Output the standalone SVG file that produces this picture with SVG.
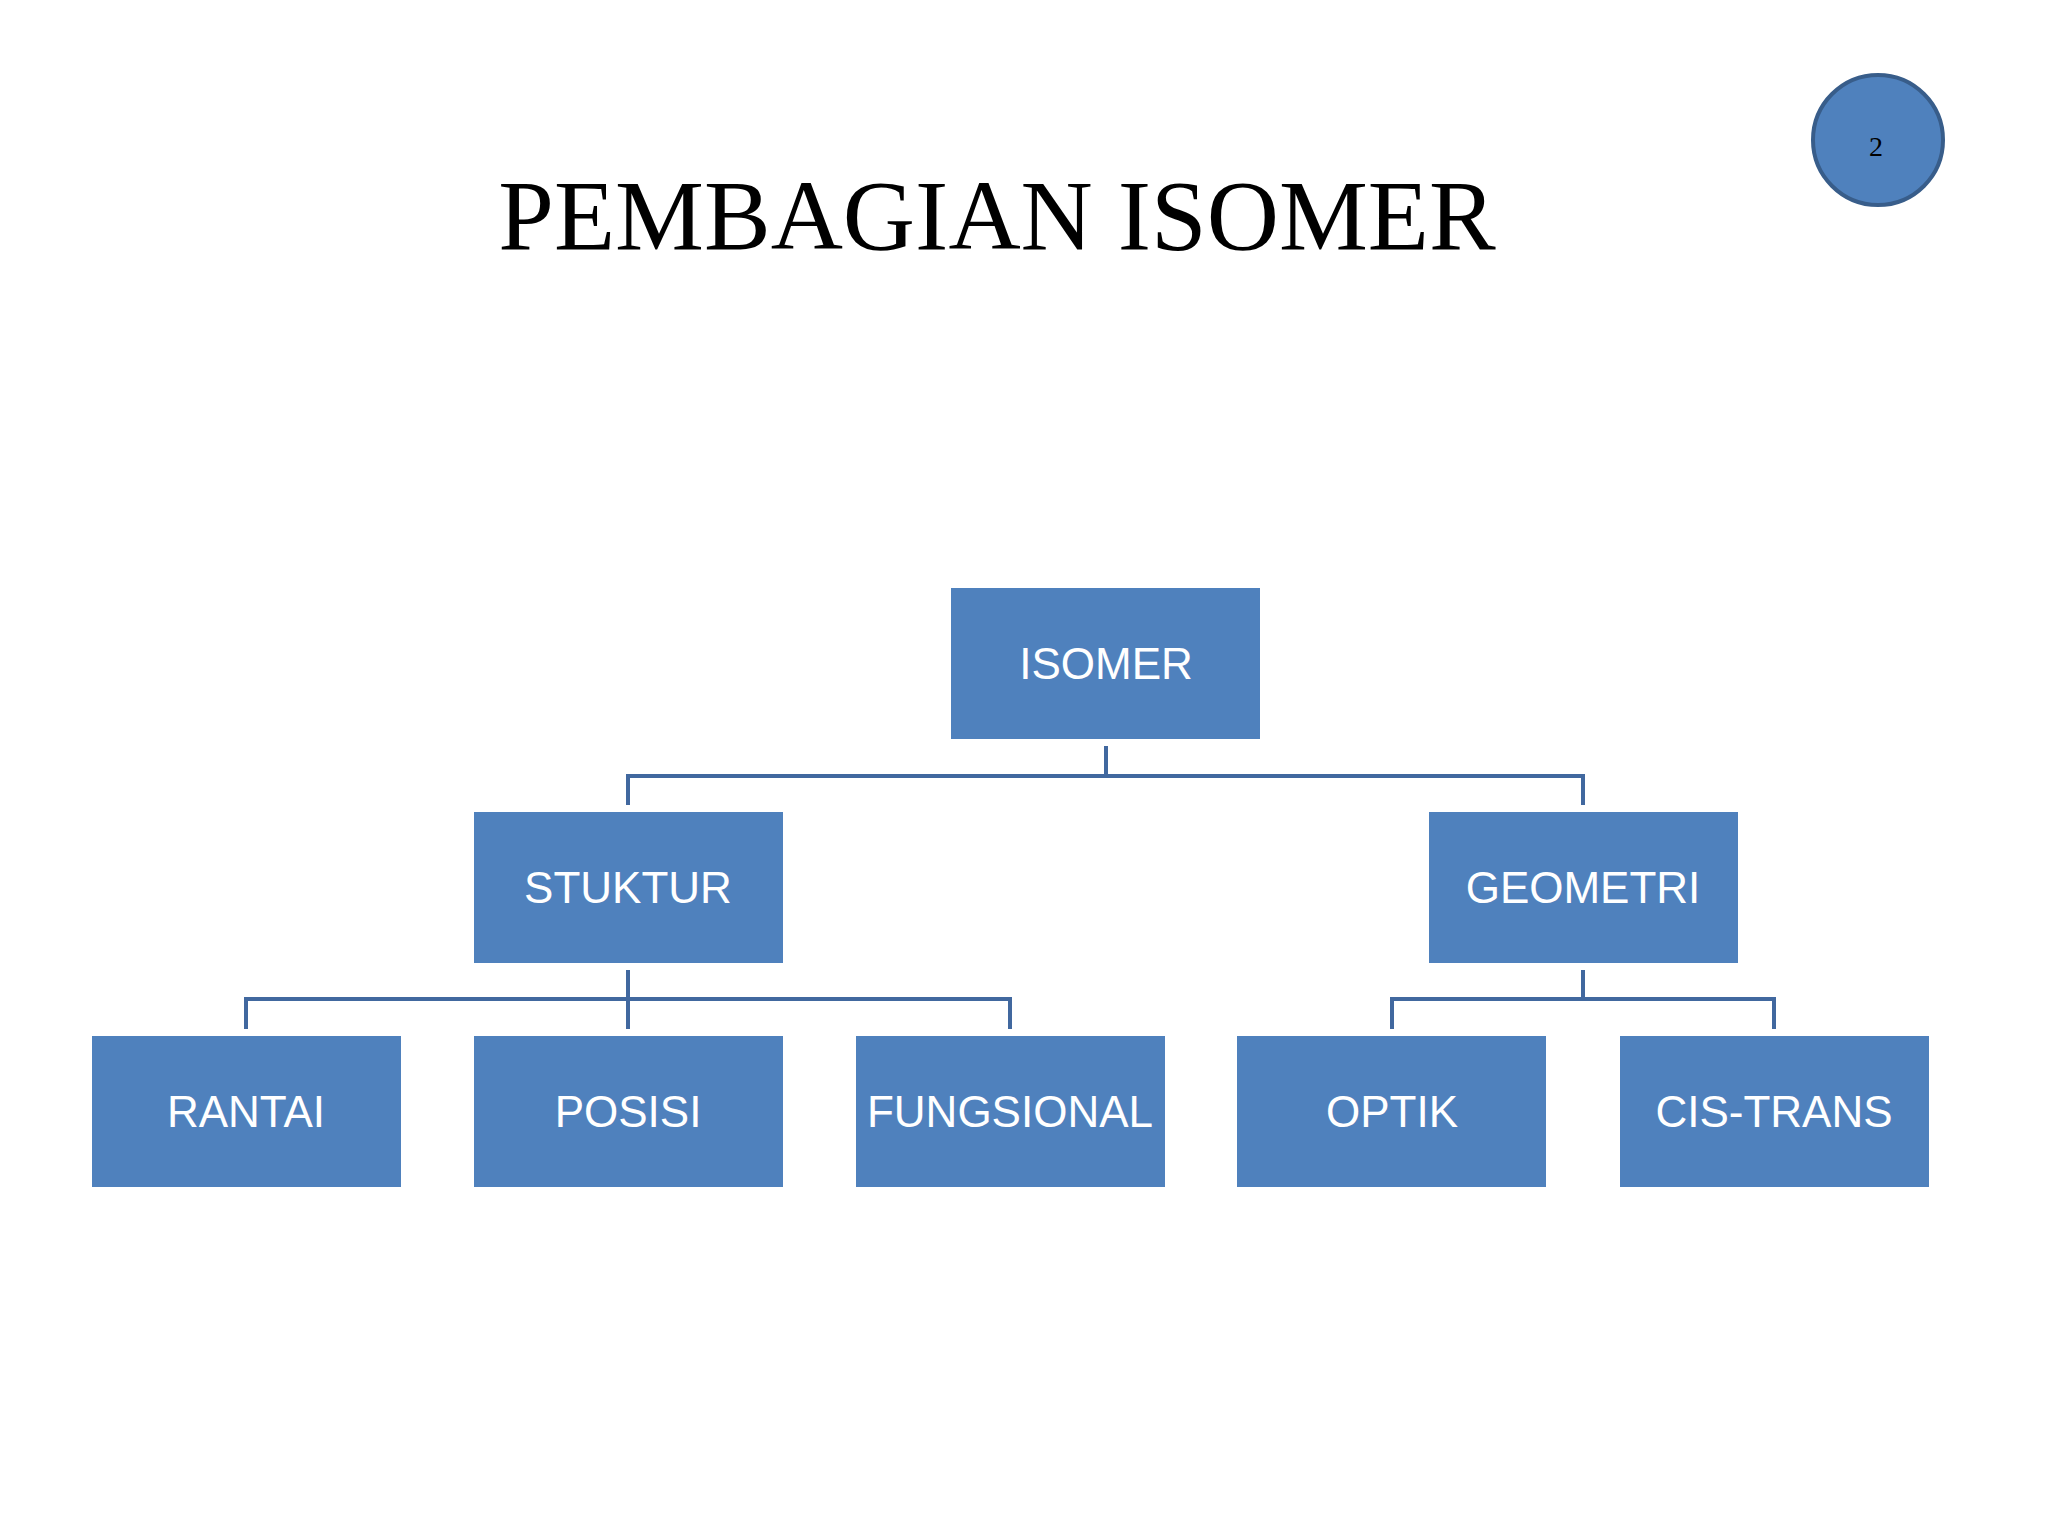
<svg xmlns="http://www.w3.org/2000/svg" width="2048" height="1536" viewBox="0 0 2048 1536">
<style>
.box{fill:#4f81bd}
.lbl{fill:#fff;font-family:"Liberation Sans",Arial,sans-serif;font-size:44px;text-anchor:middle;dominant-baseline:central}
.con{fill:none;stroke:#41689f;stroke-width:4}
</style>
<rect width="2048" height="1536" fill="#fff"/>
<text x="997" y="215" font-family="Liberation Serif,serif" font-size="100" text-anchor="middle" dominant-baseline="central" fill="#000">PEMBAGIAN ISOMER</text>
<g id="pagenum">
<circle cx="1878" cy="140" r="65" fill="#4f81bd" stroke="#385d8a" stroke-width="4"/>
<text x="1876" y="146" font-family="Liberation Serif,serif" font-size="28" text-anchor="middle" dominant-baseline="central" fill="#000">2</text>
</g>
<g id="connectors">
<path class="con" d="M1106 746V776M628 805V776H1583V805"/>
<path class="con" d="M628 970V1029M246 1029V999H1010V1029"/>
<path class="con" d="M1583 970V999M1392 1029V999H1774V1029"/>
</g>
<g id="isomer"><rect class="box" x="951" y="588" width="309" height="151"/><text class="lbl" x="1106" y="663">ISOMER</text></g>
<g id="stuktur"><rect class="box" x="474" y="812" width="309" height="151"/><text class="lbl" x="628" y="887">STUKTUR</text></g>
<g id="geometri"><rect class="box" x="1429" y="812" width="309" height="151"/><text class="lbl" x="1583" y="887">GEOMETRI</text></g>
<g id="rantai"><rect class="box" x="92" y="1036" width="309" height="151"/><text class="lbl" x="246" y="1111">RANTAI</text></g>
<g id="posisi"><rect class="box" x="474" y="1036" width="309" height="151"/><text class="lbl" x="628" y="1111">POSISI</text></g>
<g id="fungsional"><rect class="box" x="856" y="1036" width="309" height="151"/><text class="lbl" x="1010" y="1111">FUNGSIONAL</text></g>
<g id="optik"><rect class="box" x="1237" y="1036" width="309" height="151"/><text class="lbl" x="1392" y="1111">OPTIK</text></g>
<g id="cistrans"><rect class="box" x="1620" y="1036" width="309" height="151"/><text class="lbl" x="1774" y="1111">CIS-TRANS</text></g>
</svg>
